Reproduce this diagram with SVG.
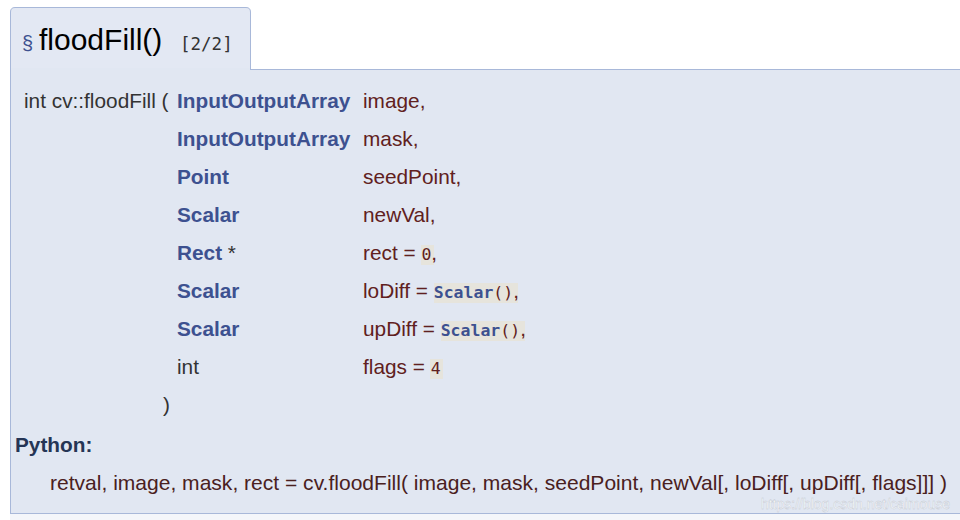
<svg xmlns="http://www.w3.org/2000/svg" width="960" height="520" viewBox="0 0 960 520">
<style>
text{font-family:"Liberation Sans",Arial,sans-serif;font-size:20.8px}
.k{fill:#3d5190;font-weight:bold}
.p{fill:#602020}
.m{font-family:"DejaVu Sans Mono","Liberation Mono",monospace;font-size:16.5px}
.c{fill:#e6e4dc}
</style>
<rect width="960" height="520" fill="#ffffff"/>
<g id="body">
<rect x="10.5" y="69.5" width="960" height="444" fill="#e1e7f2" stroke="#a8b8d9"/>
<rect x="10" y="514" width="950" height="6" fill="#f4f6fa"/>
</g>
<g id="tab">
<path d="M10.5 70 V12 Q10.5 7.5 15 7.5 H246 Q250.5 7.5 250.5 12 V70" fill="#e3e8f3" stroke="#a8b8d9"/>
<rect x="11" y="68" width="239" height="4" fill="#e1e7f2"/>
<text x="22" y="50" fill="#3d5190" style="font-size:20px">§</text>
<text x="39" y="50" fill="#000" style="font-size:30px">floodFill()</text>
<text x="180" y="50" class="m" fill="#333" style="font-size:17.5px">[2/2]</text>
</g>
<g id="signature">
<text x="24" y="108" fill="#333">int cv::floodFill (</text>
<text x="177" y="108" class="k">InputOutputArray</text><text x="363" y="108" class="p">image,</text>
<text x="177" y="146" class="k">InputOutputArray</text><text x="363" y="146" class="p">mask,</text>
<text x="177" y="184" class="k">Point</text><text x="363" y="184" class="p">seedPoint,</text>
<text x="177" y="222" class="k">Scalar</text><text x="363" y="222" class="p">newVal,</text>
<text x="177" y="260"><tspan class="k">Rect</tspan><tspan fill="#333"> *</tspan></text>
<rect x="421" y="245" width="13" height="20" class="c"/>
<text x="363" y="260" class="p">rect = <tspan class="m">0</tspan>,</text>
<text x="177" y="298" class="k">Scalar</text>
<rect x="434" y="283" width="84" height="20" class="c"/>
<text x="363" y="298" class="p">loDiff = <tspan class="m" fill="#3d5190" font-weight="bold">Scalar</tspan><tspan class="m">()</tspan>,</text>
<text x="177" y="336" class="k">Scalar</text>
<rect x="441" y="321" width="84" height="20" class="c"/>
<text x="363" y="336" class="p">upDiff = <tspan class="m" fill="#3d5190" font-weight="bold">Scalar</tspan><tspan class="m">()</tspan>,</text>
<text x="177" y="374" fill="#333">int</text>
<rect x="430" y="359" width="13" height="20" class="c"/>
<text x="363" y="374" class="p">flags = <tspan class="m">4</tspan></text>
<text x="163" y="412" fill="#333">)</text>
</g>
<g id="python">
<text x="15" y="452" font-weight="bold" fill="#253555">Python:</text>
<text x="50" y="490" fill="#4a2020" textLength="897" lengthAdjust="spacingAndGlyphs">retval, image, mask, rect = cv.floodFill( image, mask, seedPoint, newVal[, loDiff[, upDiff[, flags]]] )</text>
<text x="950" y="509" text-anchor="end" fill="#ffffff" stroke="#c0c6d0" stroke-width="0.4" style="font-size:14px">https://blog.csdn.net/caimouse</text>
</g>
</svg>
